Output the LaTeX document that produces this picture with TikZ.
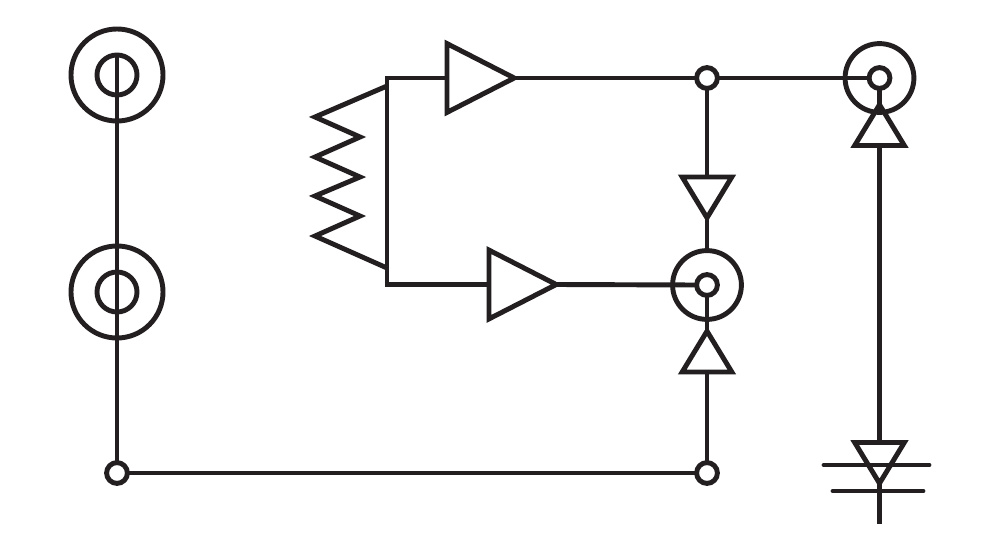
\documentclass[tikz,border=0pt]{standalone}
\definecolor{WireBlack}{RGB}{35, 31, 32}
\usepackage{tikz}
\usetikzlibrary{positioning, shapes.geometric}

\begin{document}
\begin{tikzpicture}[x=0.025cm, y=-0.025cm,
                every node/.style={outer sep=0pt, inner sep=0pt, line width=3.5pt, draw=WireBlack},
                wire/.style={draw=WireBlack, line width=3.5pt},
                bigring/.style={circle, minimum size=2.3cm},
                midring/.style={circle, minimum size=1.72cm},
                hubring/.style={circle, minimum size=1cm},
                dot/.style={circle, minimum size=0.52cm, fill=white},
                amp/.style={isosceles triangle, isosceles triangle apex angle=50, isosceles triangle stretches, minimum width=1.72cm, minimum height=1.68cm, anchor=lower side},
                valve/.style={isosceles triangle, isosceles triangle apex angle=60, isosceles triangle stretches, minimum width=1.24cm, minimum height=1.02cm, anchor=lower side}]

                \useasboundingbox (0,0) rectangle (992,558);

                % Left rings
                \node[bigring] (ringa) at (117,75) {};
                \node[hubring] (huba) at (117,75) {};
                \node[bigring] (ringb) at (117,292) {};
                \node[hubring] (hubb) at (117,292) {};

                % Junctions
                \node[dot] (dotl) at (117,473) {};
                \node[dot] (dotb) at (707,473) {};
                \node[dot] (dott) at (707,78) {};

                % Right rings
                \node[midring] (ringc) at (707,285) {};
                \node[dot] (hubc) at (707,285) {};
                \node[midring] (ringd) at (879.5,78) {};
                \node[dot] (hubd) at (879.5,78) {};

                % Amplifiers
                \node[amp] (ampa) at (447,78) {};
                \node[amp] (ampb) at (489,284.5) {};

                % Valves
                \node[valve, shape border rotate=270] (valvea) at (707,177) {};
                \node[valve, shape border rotate=90] (valveb) at (707,372) {};
                \node[valve, shape border rotate=90] (valvec) at (879.5,145.5) {};
                \node[valve, shape border rotate=270] (valved) at (879.5,442.5) {};

                % Battery ends
                \coordinate (tail) at (879.5,524);
                \coordinate (plateal) at (824,465);
                \coordinate (platear) at (929,465);
                \coordinate (platebl) at (833,491);
                \coordinate (platebr) at (923,491);

                % Wire corners
                \coordinate (cornert) at (387,78);
                \coordinate (cornerb) at (387,284.5);

                % Coil
                \draw[wire] (387,86) -- (315,117) -- (360,137) -- (315,157) -- (360,177)
                    -- (315,196) -- (360,216) -- (315,236) -- (387,268);

                % Edges
                \draw[wire] (ampa.lower side) -- (cornert) -- (cornerb) -- (ampb.lower side);
                \draw[wire] (ampa.apex) -- (dott.west);
                \draw[wire] (ampb.apex) -- (hubc.west);
                \draw[wire] (dott.east) -- (hubd.west);
                \draw[wire] (dott.south) -- (valvea.lower side);
                \draw[wire] (valvea.apex) -- (ringc.north);
                \draw[wire] (hubc.south) -- (valveb.apex);
                \draw[wire] (valveb.lower side) -- (dotb.north);
                \draw[wire] (hubd.south) -- (valvec.apex);
                \draw[wire] (valvec.lower side) -- (valved.lower side);
                \draw[wire] (valved.apex) -- (tail);
                \draw[wire, line cap=round] (plateal) -- (platear);
                \draw[wire, line cap=round] (platebl) -- (platebr);
                \draw[wire] (huba.north) -- (dotl.north);
                \draw[wire] (dotl.east) -- (dotb.west);
            \end{tikzpicture}
\end{document}
